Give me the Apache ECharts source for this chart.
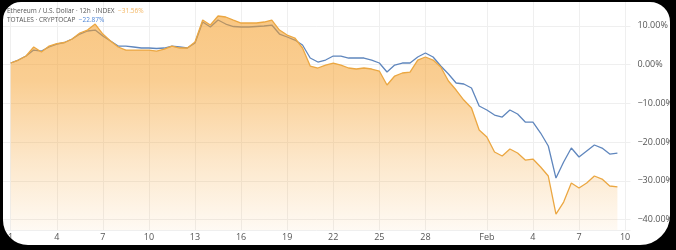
<!DOCTYPE html>
<html>
<head>
<meta charset="utf-8">
<script src="https://cdn.jsdelivr.net/npm/echarts@6/dist/echarts.min.js"></script>
<style>
html,body{margin:0;padding:0;background:#000;}
#c{width:676px;height:250px;}
</style>
</head>
<body>
<div id="c"></div>
<script>
// x positions: days since Jan 1 00:00, one point every 12h
const tickDays = [0, 3, 6, 9, 12, 15, 18, 21, 24, 27, 31, 34, 37, 40];
const tickLabels = ['1', '4', '7', '10', '13', '16', '19', '22', '25', '28', 'Feb', '4', '7', '10'];

const ethName = 'Ethereum / U.S. Dollar \u00b7 12h \u00b7 INDEX';
const totalName = 'TOTALES \u00b7 CRYPTOCAP';

const ethValues = [
  0.39, 1.16, 2.19, 4.52, 3.23, 4.77, 5.42, 5.68, 6.58, 8.13,
  8.90, 10.45, 7.87, 6.06, 4.52, 3.74, 3.74, 3.74, 3.74, 3.48,
  4.00, 4.77, 4.26, 4.26, 5.81, 11.48, 10.19, 12.52, 12.26, 11.48,
  10.71, 10.71, 10.71, 10.97, 11.48, 8.90, 7.61, 6.84, 4.26, -0.39,
  -0.90, -0.13, 0.39, -0.13, -0.90, -1.16, -0.90, -1.16, -1.68, -5.29,
  -2.97, -2.19, -1.94, 1.16, 1.94, 1.16, -0.65, -4.26, -6.58, -9.16,
  -11.23, -16.90, -18.71, -22.58, -23.61, -21.81, -22.84, -24.65, -24.39, -26.45,
  -28.77, -38.60, -35.50, -30.58, -31.87, -30.58, -28.77, -29.55, -31.35, -31.56
];
const totalValues = [
  0.39, 1.16, 2.19, 3.74, 3.48, 4.52, 5.29, 5.68, 6.58, 7.87,
  8.65, 8.90, 7.35, 6.06, 4.77, 4.77, 4.52, 4.26, 4.26, 4.13,
  4.26, 4.77, 4.52, 4.26, 5.55, 10.97, 9.68, 11.48, 10.45, 9.81,
  9.68, 9.68, 9.81, 9.94, 10.19, 7.87, 7.10, 6.32, 5.03, 1.68,
  0.65, 1.16, 2.19, 2.19, 1.68, 1.68, 1.68, 1.16, 0.39, -1.94,
  -0.13, 0.39, 0.39, 1.94, 2.97, 1.94, -0.39, -2.45, -4.77, -5.03,
  -6.06, -10.71, -11.74, -13.03, -13.55, -11.74, -12.77, -14.84, -14.84, -17.68,
  -21.03, -29.30, -25.16, -21.55, -23.87, -22.32, -20.77, -21.55, -23.10, -22.87
];

const STEP = 0.5; // 12h in days
const ethData = ethValues.map((v, i) => [i * STEP, v]);
const totalData = totalValues.map((v, i) => [i * STEP, v]);
const ethLast = ethValues[ethValues.length - 1];
const totalLast = totalValues[totalValues.length - 1];

function pct(v) {
  const s = Math.abs(v).toFixed(2) + '%';
  return v < 0 ? '\u2212' + s : s;
}
const labelMap = {};
tickDays.forEach((d, i) => { labelMap[d] = tickLabels[i]; });

const FONT = 'Open Sans';
const chart = echarts.init(document.getElementById('c'), null, {renderer: 'canvas'});
chart.setOption({
  animation: false,
  backgroundColor: '#ffffff',
  textStyle: {fontFamily: FONT},
  title: {
    left: 7, top: 7, padding: 0,
    text: '{a|' + ethName + '}  {o|' + pct(ethLast) + '}\n{a|' + totalName + '}  {b|' + pct(totalLast) + '}',
    textStyle: {
      fontSize: 6.5, fontWeight: 'normal', lineHeight: 9, color: '#555', fontFamily: FONT,
      rich: {
        a: {fontSize: 6.5, color: '#555', fontFamily: FONT, lineHeight: 9, fontWeight: 'normal'},
        o: {fontSize: 6.5, color: '#f3b560', fontFamily: FONT, lineHeight: 9, fontWeight: 'normal'},
        b: {fontSize: 6.5, color: '#4f86d6', fontFamily: FONT, lineHeight: 9, fontWeight: 'normal'}
      }
    }
  },
  grid: {left: -1.25, right: 44, top: 0, bottom: 20},
  xAxis: {
    type: 'value',
    min: -0.5, max: 40.35, interval: 0.5,
    axisLine: {show: false}, axisTick: {show: false},
    splitLine: {show: false},
    axisLabel: {
      margin: 3, fontSize: 9, color: '#555', fontFamily: FONT,
      showMinLabel: true, showMaxLabel: false,
      formatter: v => (labelMap[v] !== undefined ? labelMap[v] : '')
    }
  },
  yAxis: {
    type: 'value', position: 'right',
    min: -42.7, max: 16.65,
    axisLine: {show: true, lineStyle: {color: '#e6e6e6'}}, axisTick: {show: false},
    splitLine: {show: true, lineStyle: {color: '#efefef', width: 1}},
    axisLabel: {
      margin: 7, fontSize: 9, color: '#555', fontFamily: FONT,
      showMinLabel: false, showMaxLabel: false,
      formatter: v => pct(v)
    }
  },
  series: [
    {
      name: 'grid', type: 'line', data: [], z: 1, silent: true,
      markLine: {
        silent: true, symbol: 'none', animation: false, z: 1,
        label: {show: false},
        lineStyle: {color: '#efefef', type: 'solid', width: 1},
        data: tickDays.map(d => ({xAxis: d}))
      }
    },
    {
      name: totalName, type: 'line', data: totalData, z: 2,
      showSymbol: false, smooth: false,
      lineStyle: {color: '#5f86bd', width: 1.3},
      markLine: {
        silent: true, symbol: 'none', animation: false,
        lineStyle: {opacity: 0},
        label: {
          show: true, position: 'end', distance: 1,
          formatter: () => pct(totalLast),
          backgroundColor: '#2f73e0', color: '#fff', fontSize: 9, fontFamily: FONT,
          padding: [2, 3, 1, 3]
        },
        data: [{yAxis: totalLast}]
      }
    },
    {
      name: ethName, type: 'line', data: ethData, z: 3,
      showSymbol: false, smooth: false,
      lineStyle: {color: '#eba742', width: 1.3},
      areaStyle: {
        origin: 'start',
        color: new echarts.graphic.LinearGradient(0, 0, 0, 230, [
          {offset: 0, color: 'rgba(245,158,40,0.85)'},
          {offset: 0.35, color: 'rgba(245,158,40,0.72)'},
          {offset: 0.7, color: 'rgba(245,158,40,0.35)'},
          {offset: 1, color: 'rgba(245,158,40,0.08)'}
        ], true)
      },
      markLine: {
        silent: true, symbol: 'none', animation: false,
        lineStyle: {opacity: 0},
        label: {
          show: true, position: 'end', distance: 1,
          formatter: () => pct(ethLast),
          backgroundColor: '#f5a12a', color: '#3a2a12', fontSize: 9, fontFamily: FONT,
          padding: [2, 3, 1, 3]
        },
        data: [{yAxis: ethLast}]
      }
    }
  ],
  graphic: [
    {
      type: 'rect', silent: true, z: 1000,
      shape: {x: -17, y: -18, width: 707, height: 283, r: [38, 40, 50, 45]},
      style: {fill: 'none', stroke: '#000', lineWidth: 40}
    }
  ]
});
</script>
</body>
</html>
